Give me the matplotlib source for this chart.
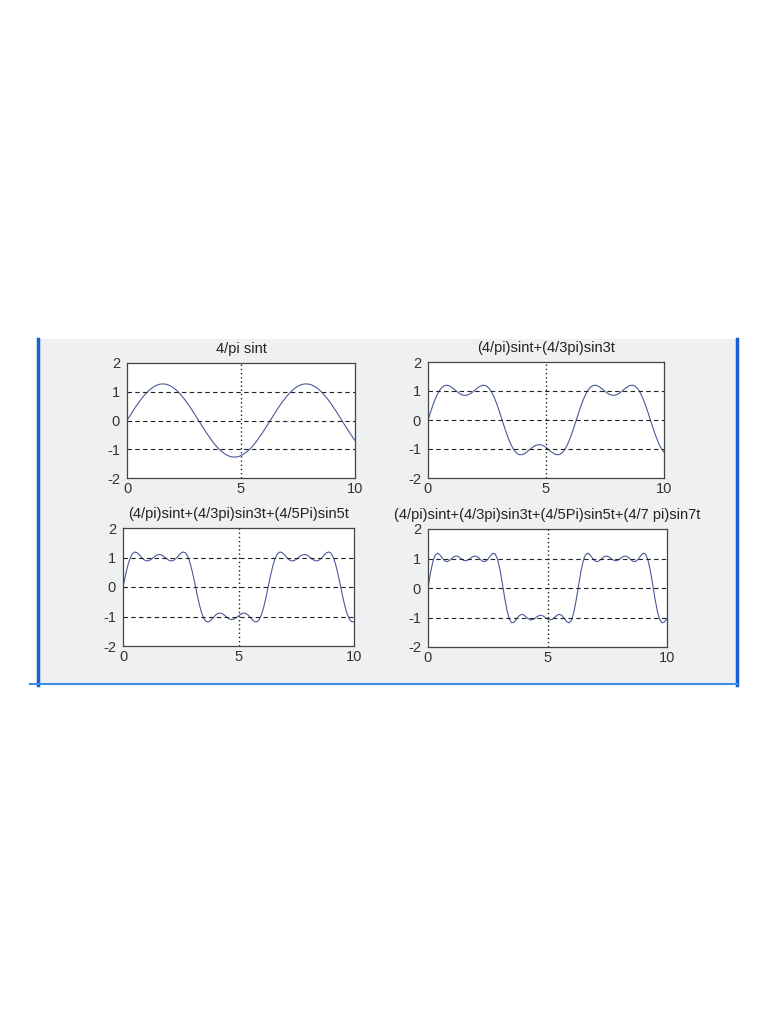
import matplotlib
matplotlib.use('Agg')
import numpy as np
import matplotlib.pyplot as plt
from matplotlib.lines import Line2D
from matplotlib.patches import Rectangle

# Fourier partial sums of a square wave, as named in the panel titles
titles = ['4/pi sint',
          '(4/pi)sint+(4/3pi)sin3t',
          '(4/pi)sint+(4/3pi)sin3t+(4/5Pi)sin5t',
          '(4/pi)sint+(4/3pi)sin3t+(4/5Pi)sin5t+(4/7 pi)sin7t']
harmonics = [1, 3, 5, 7]
amplitudes = [4 / np.pi, 4 / (3 * np.pi), 4 / (5 * np.pi), 4 / (7 * np.pi)]
t = np.arange(0, 10.05, 0.1)  # sample times, as in t=0:0.1:10
x_ticks = [0, 5, 10]
y_ticks = [-2, -1, 0, 1, 2]

plt.rcParams['font.family'] = ['Liberation Sans', 'DejaVu Sans']

fig = plt.figure(figsize=(7.68, 10.24), dpi=100)
fig.patch.set_facecolor('white')

W, H = 768.0, 1024.0

def fx(px):
    return px / W

def fy(py):
    return 1 - py / H

# screen area behind the figure
fig.patches.append(Rectangle((fx(38), fy(684)), fx(737) - fx(38), fy(339) - fy(684),
                             transform=fig.transFigure, facecolor='#eef0f2',
                             edgecolor='none', zorder=-10))
fig.lines.append(Line2D([fx(38), fx(38)], [fy(339), fy(685)], transform=fig.transFigure,
                        color='#1a5fd6', lw=2.5))
fig.lines.append(Line2D([fx(737), fx(737)], [fy(339), fy(685)], transform=fig.transFigure,
                        color='#1a5fd6', lw=2.5))
fig.lines.append(Line2D([fx(30), fx(737)], [fy(684), fy(684)], transform=fig.transFigure,
                        color='#3a8ee6', lw=1.5))

# axes boxes in pixels: left, top, right, bottom
boxes = [(127, 363, 355, 478),
         (428, 362, 664, 478),
         (123, 528, 354, 646),
         (428, 529, 667, 647)]

for k, (l, tp, r, b) in enumerate(boxes):
    ax = fig.add_axes([fx(l), fy(b), fx(r) - fx(l), fy(tp) - fy(b)])
    ax.set_facecolor('white')
    y = np.zeros_like(t)
    for n, a in zip(harmonics[:k + 1], amplitudes[:k + 1]):
        y = y + a * np.sin(n * t)
    ax.plot(t, y, color='#4a5a9a', lw=0.8)
    ax.set_xlim(0, 10)
    ax.set_ylim(-2, 2)
    ax.set_xticks(x_ticks)
    ax.set_yticks(y_ticks)
    ax.set_xticklabels([str(v) for v in x_ticks])
    ax.set_yticklabels([str(v) for v in y_ticks])
    for v in [1, 0, -1]:
        ax.axhline(v, color='#222222', lw=0.8, ls=(0, (4, 3)))
    ax.axvline(5, color='#222222', lw=1.0, ls=(0, (1, 2)))
    ax.tick_params(length=0, labelsize=10.5, colors='#333333')
    ax.tick_params(axis='y', pad=5)
    ax.tick_params(axis='x', pad=3)
    for s in ax.spines.values():
        s.set_color('#444444')
        s.set_linewidth(0.9)
    ax.set_title(titles[k], fontsize=10.5, color='#222222', pad=7)

fig.savefig('out.png', dpi=100)
